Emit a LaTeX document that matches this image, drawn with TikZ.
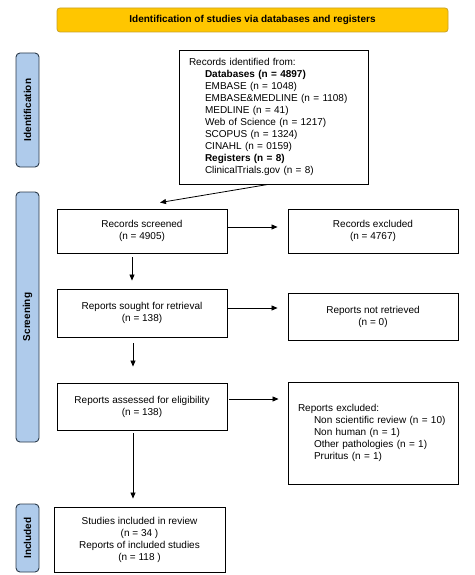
\documentclass[tikz,border=0pt]{standalone}
\usepackage{fontspec}
\setmainfont{Liberation Sans}
\usetikzlibrary{arrows.meta,calc}
\definecolor{gold}{HTML}{FFC600}
\definecolor{goldline}{HTML}{C9A227}
\definecolor{sideblue}{HTML}{AFCBEB}
\definecolor{sideline}{HTML}{2B3A4A}
\begin{document}
\begin{tikzpicture}[x=1pt,y=-1pt,
  every node/.style={font=\fontsize{10}{12}\selectfont},
  box/.style={draw, line width=0.9pt, fill=white, inner sep=0pt, align=center},
  lbox/.style={draw, line width=0.9pt, fill=white, inner xsep=10pt, inner ysep=0pt, align=left},
  side/.style={draw=sideline, fill=sideblue, line width=0.9pt, rounded corners=4pt, rotate=90,
     minimum height=23pt, inner sep=0pt, font=\fontsize{10}{12}\selectfont\bfseries},
  arr/.style={-{Triangle[length=6pt,width=5pt]}, line width=0.8pt}]
\useasboundingbox (0,0) rectangle (474,575);

\node[draw=goldline, fill=gold, line width=0.8pt, rounded corners=3pt, minimum width=391pt, minimum height=24pt,
  inner sep=0pt, font=\fontsize{10}{12}\selectfont\bfseries] (banner) at (252.5,20) {Identification of studies via databases and registers};

\node[side, minimum width=114pt] (sideid) at (27.5,110) {Identification};
\node[side, minimum width=250pt] (sidescr) at (27.5,317) {Screening};
\node[side, minimum width=68pt] (sideinc) at (27.5,538) {Included};

\node[lbox, text width=169pt, minimum height=134pt] (ident) at (273.5,117) {Records identified from:\\
\hspace*{16pt}\textbf{Databases (n = 4897)}\\
\hspace*{16pt}EMBASE (n = 1048)\\
\hspace*{16pt}EMBASE\&MEDLINE (n = 1108)\\
\hspace*{16pt}MEDLINE (n = 41)\\
\hspace*{16pt}Web of Science (n = 1217)\\
\hspace*{16pt}SCOPUS (n = 1324)\\
\hspace*{16pt}CINAHL (n = 0159)\\
\hspace*{16pt}\textbf{Registers (n = 8)}\\
\hspace*{16pt}ClinicalTrials.gov (n = 8)};

\node[box, minimum width=170pt, minimum height=44pt] (screened) at (142,231) {Records screened\\(n = 4905)};
\node[box, minimum width=170pt, minimum height=44pt] (excl1) at (373,231) {Records excluded\\(n = 4767)};
\node[box, minimum width=170pt, minimum height=48pt] (sought) at (142,313) {Reports sought for retrieval\\(n = 138)};
\node[box, minimum width=170pt, minimum height=47pt] (notret) at (373,316.5) {Reports not retrieved\\(n = 0)};
\node[box, minimum width=170pt, minimum height=47pt] (assessed) at (142,406.5) {Reports assessed for eligibility\\(n = 138)};
\node[lbox, text width=150pt, minimum height=102pt] (excl2) at (373,433) {Reports excluded:\\
\hspace*{16pt}Non scientific review (n = 10)\\
\hspace*{16pt}Non human (n = 1)\\
\hspace*{16pt}Other pathologies (n = 1)\\
\hspace*{16pt}Pruritus (n = 1)};
\node[box, minimum width=171pt, minimum height=65pt] (incl) at (139.5,539.5) {Studies included in review\\(n = 34 )\\Reports of included studies\\(n = 118 )};

\draw[arr] ($(ident.south)+(-5.5,0)$) -- ($(screened.north)+(18,-6)$);
\draw[arr, shorten >=10pt] ([yshift=4pt]screened.east) -- ([yshift=4pt]excl1.west);
\draw[arr, shorten >=10pt] ([yshift=5pt]sought.east) -- ([yshift=8.5pt]notret.west);
\draw[arr, shorten <=2pt, shorten >=9pt] ([yshift=7.5pt]assessed.east) -- ([yshift=34pt]excl2.west);
\draw[arr, shorten <=4pt, shorten >=8pt] ([xshift=-10pt]screened.south) -- ([xshift=-10pt]sought.north);
\draw[arr, shorten <=6pt, shorten >=16pt] ([xshift=-9pt]sought.south) -- ([xshift=-9pt]assessed.north);
\draw[arr, shorten <=3pt, shorten >=8pt] ([xshift=-9pt]assessed.south) -- ([xshift=-6.5pt]incl.north);
\end{tikzpicture}
\end{document}
